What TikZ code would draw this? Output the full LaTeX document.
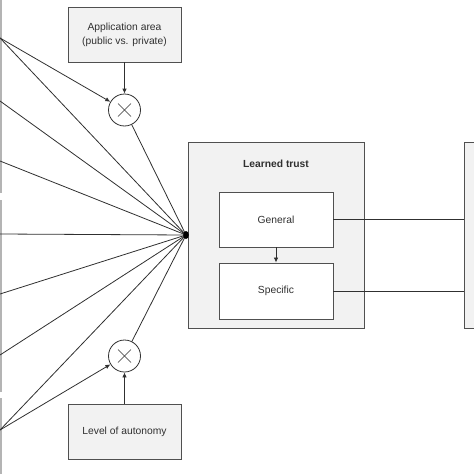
\documentclass[tikz,border=0pt]{standalone}
\usepackage{fontspec}
\setmainfont{Liberation Sans}
\usetikzlibrary{arrows.meta,calc}
\definecolor{boxfill}{HTML}{F2F2F2}
\definecolor{edge}{HTML}{505050}
\definecolor{ink}{HTML}{303030}
\definecolor{barc}{HTML}{B4B4B4}
\begin{document}
\begin{tikzpicture}[x=1pt,y=-1pt,
  every node/.style={font=\fontsize{10.3}{14}\selectfont, text=ink},
  greybox/.style={draw=edge, fill=boxfill, line width=0.9pt, rectangle, inner sep=0pt, align=center},
  whitebox/.style={draw=edge, fill=white, line width=0.9pt, rectangle, inner sep=0pt, align=center},
  mult/.style={draw=ink, fill=white, circle, line width=0.8pt, minimum size=32pt, inner sep=0pt},
  conn/.style={draw=ink, line width=0.8pt},
  arr/.style={conn, -{Latex[length=5pt,width=4.5pt]}},
  bar/.style={draw=barc, line width=2.5pt}]
\useasboundingbox (0,0) rectangle (474,474);
\clip (0,0) rectangle (474,474);

% cropped boxes at the left edge
\draw[bar] (1,0) -- (1,193);
\draw[bar] (1,200) -- (1,392);
\draw[bar] (1,398) -- (1,474);

% sources at the left edge
\coordinate (s1) at (0,38);
\coordinate (s2) at (0,101);
\coordinate (s3) at (0,161);
\coordinate (s4) at (0,234);
\coordinate (s5) at (0,294);
\coordinate (s6) at (0,355);
\coordinate (s7) at (0,430);

% main boxes
\node[greybox, minimum width=176pt, minimum height=186pt] (lt) at (276,235) {};
\node[font=\fontsize{10.3}{14}\selectfont\bfseries] (ltl) at (276,164) {Learned trust};
\node[whitebox, minimum width=114pt, minimum height=55pt] (gen) at (276,219.5) {General};
\node[whitebox, minimum width=114pt, minimum height=56pt] (spec) at (276,291) {Specific};
\node[greybox, minimum width=30pt, minimum height=186pt] (rb) at (479,235) {};

\node[greybox, minimum width=113pt, minimum height=55pt] (app) at (124.5,34.5) {Application area\\(public vs. private)};
\node[greybox, minimum width=113pt, minimum height=55pt] (lev) at (124.5,431.5) {Level of autonomy};

\node[mult] (m1) at (124.5,110) {};
\node[mult] (m2) at (124.5,356) {};
\draw[conn, line width=0.6pt] ($(m1)+(-6.5,-6.5)$) -- ($(m1)+(6.5,6.5)$);
\draw[conn, line width=0.6pt] ($(m1)+(-6.5,6.5)$) -- ($(m1)+(6.5,-6.5)$);
\draw[conn, line width=0.6pt] ($(m2)+(-6.5,-6.5)$) -- ($(m2)+(6.5,6.5)$);
\draw[conn, line width=0.6pt] ($(m2)+(-6.5,6.5)$) -- ($(m2)+(6.5,-6.5)$);

\coordinate (j) at (186,235);

% connectors
\draw[arr] (app) -- (m1);
\draw[arr] (s1) -- (m1);
\draw[arr] (lev) -- (m2);
\draw[arr] (s7) -- (m2);
\draw[conn] (m1) -- (j);
\draw[conn] (m2) -- (j);
\foreach \s in {s1,s2,s3,s4,s5,s6,s7} \draw[conn] (\s) -- (j);
\fill[black] (j) ellipse (2.8pt and 4pt);

\draw[arr] (gen) -- (spec);
\draw[conn] (gen.east) -- (gen.east -| rb.west);
\draw[conn] (spec.east) -- (spec.east -| rb.west);
\end{tikzpicture}
\end{document}
